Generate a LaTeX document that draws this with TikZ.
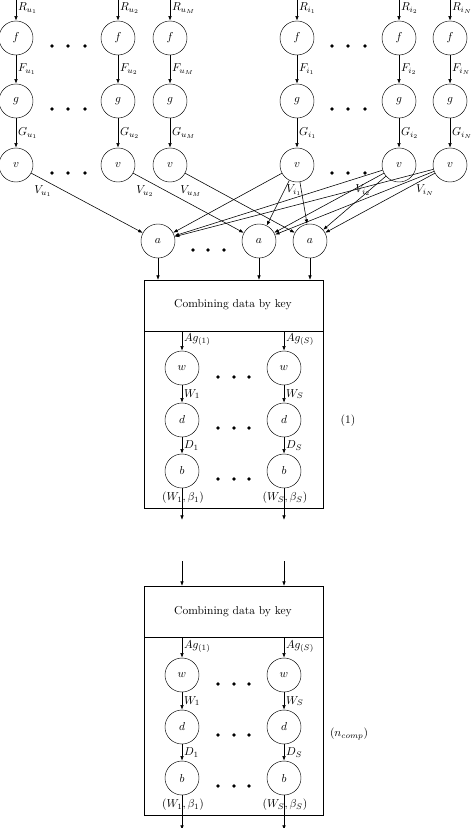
\documentclass[tikz,border=0pt]{standalone}
\usetikzlibrary{arrows.meta,calc}
\begin{document}
\begin{tikzpicture}[x=0.87pt,y=-0.87pt,
  nd/.style={circle,draw,minimum size=29.6pt,inner sep=0pt,font=\normalsize},
  arr/.style={-{Latex[length=4pt,width=3pt]},line width=0.5pt},
  lbl/.style={inner sep=1.5pt},
  dotmark/.style={fill=black},
  boxst/.style={draw,line width=0.6pt}]
\useasboundingbox (0,0) rectangle (474,828);
% top columns
\foreach \n/\x/\s in {u1/16/u_1,u2/118/u_2,uM/170/u_M,i1/297/i_1,i2/399/i_2,iN/450/i_N}{
  \coordinate (t\n) at (\x,-2);
  \node[nd] (f\n) at (\x,38) {$f$};
  \node[nd] (g\n) at (\x,101) {$g$};
  \node[nd] (v\n) at (\x,165) {$v$};
  \draw[arr] (t\n) -- node[right,lbl,pos=0.45] {$R_{\s}$} (f\n);
  \draw[arr] (f\n) -- node[right,lbl] {$F_{\s}$} (g\n);
  \draw[arr] (g\n) -- node[right,lbl] {$G_{\s}$} (v\n);
}
% dots rows
\foreach \y in {46,109,173}{
  \foreach \x in {52,68,85,332,348,365}{\fill[dotmark] (\x,\y) circle (1.6pt);}
}
% V labels
\node[lbl] (Vu1) at (43,191) {$V_{u_1}$};
\node[lbl] (Vu2) at (145,191) {$V_{u_2}$};
\node[lbl] (VuM) at (191,191) {$V_{u_M}$};
\node[lbl] (Vi1) at (294,190) {$V_{i_1}$};
\node[lbl] (Vi2) at (363,190) {$V_{i_2}$};
\node[lbl] (ViN) at (425,190) {$V_{i_N}$};
% a nodes
\node[nd] (a1) at (158,241) {$a$};
\node[nd] (a2) at (259,241) {$a$};
\node[nd] (a3) at (310,241) {$a$};
\foreach \x in {193,208,224}{\fill[dotmark] (\x,250) circle (1.6pt);}
\draw[arr] (vu1) -- (a1);
\draw[arr] (vu2) -- (a2);
\draw[arr] (vuM) -- (a3);
\foreach \s in {i1,i2,iN}{
  \foreach \t in {a1,a2,a3}{\draw[arr] (v\s) -- (\t);}
}
% box 1
\draw[boxst] (144,280) rectangle (323,508);
\draw[boxst] (144,331) -- (323,331);
\node (cmb1) at (233,305) {Combining data by key};
\coordinate (in1a) at (158,280);
\coordinate (in1b) at (259,280);
\coordinate (in1c) at (310,280);
\draw[arr] (a1) -- (in1a);
\draw[arr] (a2) -- (in1b);
\draw[arr] (a3) -- (in1c);
\node (lab1) at (348,421) {$(1)$};
% box 2
\draw[boxst] (144,586) rectangle (323,815);
\draw[boxst] (144,637) -- (323,637);
\node (cmb2) at (233,612) {Combining data by key};
\coordinate (s2a) at (182,561);
\coordinate (s2b) at (284,561);
\coordinate (in2a) at (182,586);
\coordinate (in2b) at (284,586);
\draw[arr] (s2a) -- (in2a);
\draw[arr] (s2b) -- (in2b);
\node (lab2) at (349,734) {$(n_{comp})$};
% inner columns
\foreach \k/\top/\w/\d/\b/\e in {1/331/368/420/471/520,2/637/675/727/778/830}{
  \foreach \c/\x/\sub in {1/182/1,2/284/S}{
    \coordinate (dv\k\c) at (\x,\top);
    \coordinate (out\k\c) at (\x,\e);
    \node[nd] (w\k\c) at (\x,\w) {$w$};
    \node[nd] (d\k\c) at (\x,\d) {$d$};
    \node[nd] (b\k\c) at (\x,\b) {$b$};
    \draw[arr] (dv\k\c) -- node[right,lbl,pos=0.45] {$Ag_{(\sub)}$} (w\k\c);
    \draw[arr] (w\k\c) -- node[right,lbl] {$W_{\sub}$} (d\k\c);
    \draw[arr] (d\k\c) -- node[right,lbl] {$D_{\sub}$} (b\k\c);
    \draw[arr] (b\k\c) -- (out\k\c);
    \node[lbl] (p\k\c) at ($(b\k\c)+(1,27)$) {$(W_{\sub},\beta_{\sub})$};
  }
  \foreach \x in {218,234,249}{
    \fill[dotmark] (\x,\w+9) circle (1.6pt);
    \fill[dotmark] (\x,\d+8) circle (1.6pt);
    \fill[dotmark] (\x,\b+8) circle (1.6pt);
  }
}
\end{tikzpicture}
\end{document}
